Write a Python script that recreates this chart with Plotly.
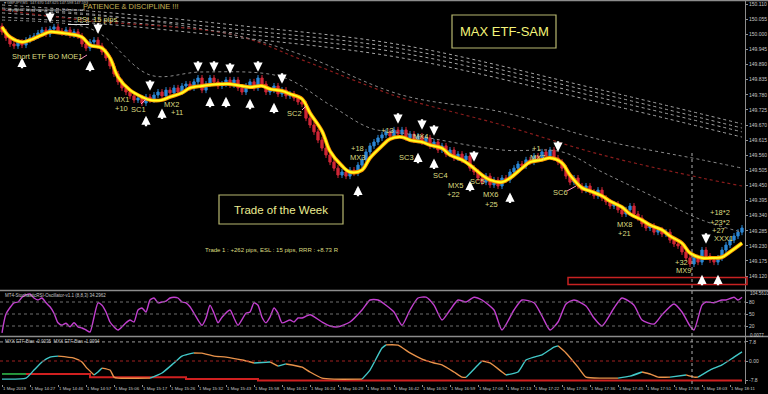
import plotly.graph_objects as go
from plotly.subplots import make_subplots

# ---------------- data ----------------
time_labels = ["1 May 2019", "1 May 14:27", "1 May 14:46", "1 May 14:57", "1 May 15:06",
               "1 May 15:17", "1 May 15:26", "1 May 15:32", "1 May 15:43", "1 May 15:58",
               "1 May 16:12", "1 May 16:24", "1 May 16:29", "1 May 16:35", "1 May 16:42",
               "1 May 16:52", "1 May 16:59", "1 May 17:06", "1 May 17:13", "1 May 17:22",
               "1 May 17:30", "1 May 17:36", "1 May 17:45", "1 May 17:51", "1 May 17:58",
               "1 May 18:03", "1 May 18:11"]
label_bars = list(range(0, 186, 7))

price_ticks = [150.110, 150.055, 150.000, 149.945, 149.890, 149.835, 149.780, 149.725,
               149.670, 149.615, 149.560, 149.505, 149.450, 149.395, 149.340, 149.285,
               149.230, 149.175, 149.120]

open0 = 150.030
close = [
    150.009, 149.987, 149.965, 149.958, 149.972, 149.961, 149.979, 149.987, 149.994, 150.005,
    150.016, 150.001, 150.019, 150.027, 150.012, 150.005, 150.016, 149.998, 150.009, 149.994,
    149.965, 149.950, 149.972, 149.979, 149.958, 149.936, 149.914, 149.885, 149.856, 149.827,
    149.805, 149.790, 149.776, 149.761, 149.768, 149.750, 149.772, 149.761, 149.779, 149.790,
    149.776, 149.797, 149.787, 149.805, 149.790, 149.812, 149.819, 149.805, 149.827, 149.841,
    149.797, 149.819, 149.841, 149.827, 149.812, 149.819, 149.834, 149.816, 149.834, 149.805,
    149.790, 149.812, 149.827, 149.805, 149.841, 149.819, 149.790, 149.797, 149.812, 149.783,
    149.797, 149.776, 149.783, 149.768, 149.754, 149.746, 149.695, 149.670, 149.645, 149.615,
    149.586, 149.561, 149.535, 149.513, 149.488, 149.499, 149.484, 149.506, 149.495, 149.524,
    149.543, 149.572, 149.594, 149.608, 149.623, 149.634, 149.645, 149.630, 149.652, 149.637,
    149.652, 149.623, 149.637, 149.615, 149.630, 149.608, 149.623, 149.594, 149.608, 149.579,
    149.594, 149.564, 149.579, 149.550, 149.564, 149.543, 149.557, 149.513, 149.499, 149.477,
    149.462, 149.484, 149.452, 149.470, 149.448, 149.477, 149.470, 149.499, 149.513, 149.528,
    149.521, 149.543, 149.535, 149.557, 149.550, 149.572, 149.557, 149.579, 149.550, 149.535,
    149.513, 149.484, 149.462, 149.477, 149.448, 149.433, 149.448, 149.426, 149.412, 149.433,
    149.404, 149.390, 149.375, 149.382, 149.361, 149.346, 149.361, 149.375, 149.346, 149.331,
    149.310, 149.295, 149.302, 149.280, 149.288, 149.273, 149.280, 149.251, 149.237, 149.230,
    149.208, 149.186, 149.164, 149.186, 149.171, 149.215, 149.193, 149.179, 149.171, 149.186,
    149.215, 149.233, 149.251, 149.266, 149.280, 149.295,
]
wick = 0.011

ma_idx = [0, 2, 5, 7, 10, 12, 15, 17, 20, 22, 25, 27, 29, 32, 35, 37, 40, 42, 45, 47,
          50, 52, 55, 57, 60, 62, 65, 67, 70, 72, 75, 77, 80, 82, 85, 87, 90, 92, 95, 97,
          100, 102, 105, 107, 110, 112, 115, 117, 120, 122, 125, 127, 130, 132, 135, 137,
          140, 142, 145, 147, 150, 152, 155, 157, 160, 162, 165, 167, 170, 172, 175, 177,
          180, 182, 185]
ma_val = [150.027, 149.990, 149.972, 149.979, 149.998, 150.009, 150.005, 150.001, 149.990, 149.961,
          149.950, 149.914, 149.845, 149.797, 149.772, 149.761, 149.761, 149.772, 149.787, 149.805,
          149.812, 149.816, 149.819, 149.819, 149.812, 149.808, 149.812, 149.801, 149.794, 149.783,
          149.765, 149.714, 149.648, 149.575, 149.521, 149.499, 149.506, 149.550, 149.594, 149.619,
          149.626, 149.615, 149.608, 149.597, 149.586, 149.561, 149.543, 149.524, 149.488, 149.470,
          149.462, 149.477, 149.513, 149.535, 149.543, 149.550, 149.532, 149.488, 149.441, 149.430,
          149.412, 149.393, 149.371, 149.346, 149.324, 149.306, 149.288, 149.266, 149.240, 149.204,
          149.186, 149.186, 149.189, 149.208, 149.240]

near_idx = [0, 20, 25, 37, 50, 70, 82, 92, 100, 125, 140, 150, 162, 175, 185]
near_val = [150.052, 150.030, 149.998, 149.852, 149.863, 149.845, 149.743, 149.659, 149.641,
            149.579, 149.572, 149.499, 149.415, 149.324, 149.280]
mid_idx = [0, 25, 58, 75, 100, 125, 150, 175, 185]
mid_val = [150.096, 150.070, 149.998, 149.925, 149.779, 149.717, 149.615, 149.543, 149.513]
red_ma_idx = [0, 20, 58, 75, 91, 100, 125, 150, 175, 185]
red_ma_val = [150.089, 150.052, 149.998, 149.907, 149.816, 149.768, 149.670, 149.561, 149.477, 149.448]
fan_idx = [0, 25, 58, 100, 150, 185]
fan1 = [150.107, 150.081, 150.034, 149.961, 149.797, 149.674]
fan2 = [150.092, 150.067, 150.019, 149.947, 149.783, 149.659]
fan3 = [150.078, 150.052, 150.005, 149.932, 149.768, 149.645]
fan4 = [150.063, 150.038, 149.990, 149.914, 149.750, 149.626]

down_arrow_bars = [12, 24, 37, 49, 53, 57, 64, 70, 99, 105, 108, 118, 139, 176]
up_arrow_bars = [5, 22, 36, 40, 52, 56, 62, 68, 89, 104, 108, 117, 127, 175, 179]

osc_idx = [0, 1, 3, 4, 5, 6, 7, 8, 9, 10, 11, 12, 13, 14, 15, 16, 17, 18, 19, 20, 21, 22, 23, 24,
           25, 26, 27, 28, 29, 30, 31, 32, 33, 34, 35, 36, 37, 38, 39, 40, 41, 42, 43, 44, 45, 46,
           47, 48, 50, 51, 52, 53, 54, 55, 57, 58, 59, 61, 62, 63, 64, 65, 66, 67, 68, 69, 70, 72,
           73, 74, 75, 77, 80, 82, 84, 87, 90, 92, 94, 96, 98, 100, 102, 104, 106, 108, 110, 112,
           114, 116, 118, 120, 123, 125, 128, 130, 133, 135, 137, 139, 141, 143, 146, 148, 150,
           153, 155, 158, 160, 163, 165, 168, 170, 172, 173, 175, 176, 178, 180, 181, 183, 184, 185]
osc_val = [3, 50, 78, 80, 92, 98, 100, 90, 85, 90, 78, 68, 52, 28, 22, 27, 18, 28, 18, 15, 10, 5, 42, 78,
           72, 55, 30, 18, 10, 18, 28, 35, 30, 60, 65, 55, 85, 90, 78, 80, 82, 90, 92, 90, 80, 78,
           68, 52, 22, 40, 72, 52, 28, 42, 60, 40, 22, 52, 55, 78, 72, 42, 28, 42, 65, 52, 28, 35,
           30, 40, 40, 48, 30, 20, 18, 30, 60, 85, 85, 72, 55, 22, 60, 90, 92, 72, 35, 60,
           85, 80, 92, 85, 60, 10, 60, 85, 78, 45, 10, 30, 75, 85, 70, 40, 20,
           65, 90, 72, 35, 25, 48, 75, 55, 20, 10, 72, 80, 78, 85, 85, 92, 85, 92]
osc_levels = [80, 50, 20]

bias_idx = [0, 6, 8, 10, 12, 14, 18, 20, 21, 23, 24, 25, 27, 28, 29, 37, 40, 43, 45, 48, 50, 53,
            56, 60, 63, 65, 67, 69, 71, 75, 77, 80, 83, 90, 92, 95, 96, 99, 102, 105, 108, 110,
            113, 115, 116, 119, 120, 122, 125, 126, 129, 131, 133, 135, 138, 139, 141, 144, 146,
            150, 154, 157, 160, 162, 164, 167, 171, 173, 174, 177, 180, 183, 185]
bias_val = [-7.4, -7.0, -3.7, -0.4, 1.6, 2.0, 1.2, -0.4, -2.5, -5.7, -4.5, -2.9, -3.7, -6.6, -7.0,
            -7.0, -4.9, -0.8, 2.0, 3.3, 3.2, 2.0, 1.6, 0.4, -0.8, -0.6, -0.4, -2.1, -1.2, -2.5, -4.5,
            -7.0, -7.4, -7.4, -3.7, 5.3, 6.6, 6.5, 3.3, 0.8, -0.8, -1.6, -4.5, -6.6, -6.7, -1.6, 0.0,
            -0.8, -4.5, -5.7, -4.5, 0.4, 1.6, 2.5, 5.7, 6.2, 3.3, -2.5, -6.6, -7.0, -7.0, -6.2, -4.5,
            -5.3, -6.6, -6.6, -5.7, -6.6, -6.6, -3.7, -1.6, 1.6, 3.7]
green_idx = [0, 6]
green_val = [-5.3, -5.3]
redstep_idx = [6, 22, 46, 64, 185]
redstep_val = [-5.3, -6.6, -7.4, -8.0, -8.0]
bias_levels = [7.8, 0.0]

# ---------------- styling / geometry ----------------
W, H = 768, 394
ML, MR, MT, MB = 0, 23, 2, 10
PW, PH = W - ML - MR, H - MT - MB


def fx(px):
    return (px - ML) / PW


def fy(py):
    return (H - MB - py) / PH


BLUE = "#2f8fe0"
RED = "#dc2a3a"
LBL = "#dcdc80"
TXT = "#c8c8c8"
FONT = "Liberation Sans"

n = len(close)
bars = list(range(n))
opens = [open0] + close[:-1]
highs = [max(o, c) + wick for o, c in zip(opens, close)]
lows = [min(o, c) - wick for o, c in zip(opens, close)]

fig = make_subplots(rows=3, cols=1, shared_xaxes=True, vertical_spacing=0.0)

for xs, ys, col, w in [(fan_idx, fan1, "#a8a8a8", 1), (fan_idx, fan2, "#a8a8a8", 1),
                       (fan_idx, fan3, "#a8a8a8", 1), (fan_idx, fan4, "#a8a8a8", 1),
                       (red_ma_idx, red_ma_val, "#8a1c1c", 1.2),
                       (mid_idx, mid_val, "#8a8a8a", 1), (near_idx, near_val, "#8a8a8a", 1)]:
    fig.add_trace(go.Scatter(x=xs, y=ys, mode="lines", line=dict(color=col, width=w, dash="dot",
                  shape="spline"), hoverinfo="skip", showlegend=False), row=1, col=1)

fig.add_trace(go.Scatter(x=ma_idx, y=ma_val, mode="lines",
                         line=dict(color="#ff9a00", width=3.8, shape="spline"),
                         hoverinfo="skip", showlegend=False), row=1, col=1)
fig.add_trace(go.Scatter(x=ma_idx, y=ma_val, mode="lines",
                         line=dict(color="#ffff20", width=1.9, shape="spline"),
                         hoverinfo="skip", showlegend=False), row=1, col=1)

fig.add_trace(go.Candlestick(x=bars, open=opens, high=highs, low=lows, close=close,
                             increasing=dict(line=dict(color=BLUE, width=1), fillcolor=BLUE),
                             decreasing=dict(line=dict(color=RED, width=1), fillcolor=RED),
                             whiskerwidth=0, opacity=0.95, showlegend=False, hoverinfo="skip"),
              row=1, col=1)

fig.add_trace(go.Scatter(x=osc_idx, y=osc_val, mode="lines",
                         line=dict(color="#c23fcf", width=1.4, shape="spline", smoothing=0.6),
                         hoverinfo="skip", showlegend=False), row=2, col=1)

fig.add_trace(go.Scatter(x=green_idx, y=green_val, mode="lines", line=dict(color="#2fb84a", width=1.6),
                         hoverinfo="skip", showlegend=False), row=3, col=1)
fig.add_trace(go.Scatter(x=redstep_idx, y=redstep_val, mode="lines",
                         line=dict(color="#d02020", width=2, shape="hv"),
                         hoverinfo="skip", showlegend=False), row=3, col=1)

TEAL, ORNG = "#42c8c8", "#e8924a"
runs = []
prev_col = TEAL
for k in range(len(bias_idx) - 1):
    d = bias_val[k + 1] - bias_val[k]
    col = TEAL if d > 0 else (ORNG if d < 0 else prev_col)
    if runs and runs[-1][0] == col:
        runs[-1][1].append(k + 1)
    else:
        runs.append([col, [k, k + 1]])
    prev_col = col
for col, ks in runs:
    fig.add_trace(go.Scatter(x=[bias_idx[k] for k in ks], y=[bias_val[k] for k in ks], mode="lines",
                             line=dict(color=col, width=1.4, shape="spline", smoothing=0.5),
                             hoverinfo="skip", showlegend=False), row=3, col=1)

# ---------------- axes ----------------
xr = [-0.5, 185.75]
for i in (1, 2, 3):
    fig.update_xaxes(range=xr, showgrid=False, zeroline=False, showline=False,
                     rangeslider=dict(visible=False), showticklabels=False, row=i, col=1)
fig.update_xaxes(ticks="", row=1, col=1)
fig.update_xaxes(ticks="", row=2, col=1)
fig.update_xaxes(tickmode="array", tickvals=label_bars, ticks="outside", ticklen=2,
                 tickcolor="#909090", automargin=False, row=3, col=1)

ax_common = dict(side="right", showgrid=False, zeroline=False, showline=False, ticks="outside",
                 ticklen=2, tickcolor="#909090", automargin=False,
                 tickfont=dict(family=FONT, size=5, color=TXT))
fig.update_layout(
    yaxis=dict(domain=[fy(289), fy(2)], range=[150.125 - 0.00364 * 289, 150.125 - 0.00364 * 2],
               tickmode="array", tickvals=price_ticks, ticktext=["%.3f" % v for v in price_ticks],
               **ax_common),
    yaxis2=dict(domain=[fy(334), fy(292)], range=[0, 105], tickmode="array",
                tickvals=osc_levels, ticktext=[str(v) for v in osc_levels], **ax_common),
    yaxis3=dict(domain=[fy(384), fy(338)], range=[-9.4, 9.4], tickmode="array",
                tickvals=[7.8, 0.0, -7.8], ticktext=["7.8", "0.00", "-7.8"], **ax_common),
    boxgap=0.2,
)

# ---------------- shapes ----------------
shapes = []
for py in (0.5, 290.5, 336.5):
    shapes.append(dict(type="line", xref="paper", yref="paper", x0=fx(0), x1=fx(768),
                       y0=fy(py), y1=fy(py), line=dict(color="#8c8c8c", width=1.5)))
shapes.append(dict(type="line", xref="paper", yref="paper", x0=fx(745.5), x1=fx(745.5),
                   y0=fy(0), y1=fy(384), line=dict(color="#8c8c8c", width=1)))
for lv in osc_levels:
    shapes.append(dict(type="line", xref="paper", yref="y2", x0=0, x1=1, y0=lv, y1=lv,
                       line=dict(color="#6e6e6e", width=1, dash="dot")))
shapes.append(dict(type="line", xref="paper", yref="y3", x0=0, x1=1, y0=bias_levels[0], y1=bias_levels[0],
                   line=dict(color="#9a9a9a", width=1, dash="dot")))
shapes.append(dict(type="line", xref="paper", yref="y3", x0=0, x1=1, y0=bias_levels[1], y1=bias_levels[1],
                   line=dict(color="#a02020", width=1, dash="dot")))
shapes.append(dict(type="line", xref="x", yref="paper", x0=172.5, x1=172.5, y0=fy(384), y1=fy(150),
                   line=dict(color="#b0b0b0", width=1, dash="dot")))
shapes.append(dict(type="rect", xref="paper", yref="paper", x0=fx(452), x1=fx(556), y0=fy(48), y1=fy(15),
                   line=dict(color="#b8b870", width=1.2)))
shapes.append(dict(type="rect", xref="paper", yref="paper", x0=fx(219), x1=fx(343), y0=fy(224), y1=fy(195),
                   line=dict(color="#b8b870", width=1.2)))
shapes.append(dict(type="rect", xref="paper", yref="paper", x0=fx(568), x1=fx(747), y0=fy(284.5),
                   y1=fy(277.5), line=dict(color="#c82222", width=1.5)))
shapes.append(dict(type="line", xref="paper", yref="paper", x0=fx(68), x1=fx(89), y0=fy(24.5), y1=fy(24.5),
                   line=dict(color="#e0e0e0", width=1)))
for x0, y0, x1, y1 in [(79, 60, 87, 55), (141, 104, 146, 99), (302, 110, 306, 106), (567, 191, 576, 186)]:
    shapes.append(dict(type="line", xref="paper", yref="paper", x0=fx(x0), x1=fx(x1), y0=fy(y0), y1=fy(y1),
                       line=dict(color="#ff8fc0", width=1)))

# ---------------- annotations ----------------
ann = []
for b in down_arrow_bars:
    ann.append(dict(x=b, y=highs[b] + 0.012, xref="x", yref="y", text="", showarrow=True, ax=0, ay=-12,
                    arrowhead=2, arrowsize=0.8, arrowwidth=2.3, arrowcolor="#ffffff"))
for b in up_arrow_bars:
    ann.append(dict(x=b, y=lows[b] - 0.035, xref="x", yref="y", text="", showarrow=True, ax=0, ay=12,
                    arrowhead=2, arrowsize=0.8, arrowwidth=2.3, arrowcolor="#ffffff"))

for b, t in zip(label_bars, time_labels):
    ann.append(dict(x=b - 0.2, y=fy(388.5), xref="x", yref="paper", text=t, showarrow=False,
                    xanchor="left", yanchor="middle", font=dict(family=FONT, size=4.4, color=TXT)))

labels = [
    ("Short ETF BO MOE1", 47, 57), ("ESL 15 pips", 97, 20),
    ("MX1", 121, 99), ("+10", 121, 108), ("SC1", 138, 110),
    ("MX2", 171, 104), ("+11", 177, 112), ("SC2", 294, 114),
    ("+18", 357, 148), ("MX3", 357, 157),
    ("+13", 388, 130), ("MX4", 420, 137), ("SC3", 406, 157),
    ("SC4", 440, 175), ("MX5", 455, 186), ("+22", 453, 195),
    ("SC5", 477, 181), ("MX6", 490, 195), ("+25", 491, 204),
    ("+1", 536, 148), ("MX7", 537, 157), ("SC6", 560, 192),
    ("MX8", 624, 224), ("+21", 624, 233),
    ("+18*2", 720, 213), ("+23*2", 720, 222), ("+27", 718, 230), ("XXX1", 723, 238),
    ("+32", 681, 262), ("MX9", 683, 270),
]
for t, x, y in labels:
    ann.append(dict(text=t, x=fx(x), y=fy(y), xref="paper", yref="paper", showarrow=False,
                    xanchor="center", yanchor="middle", font=dict(family=FONT, size=7.5, color=LBL)))


def txt(t, x, y, size, color, anchor="left"):
    ann.append(dict(text=t, x=fx(x), y=fy(y), xref="paper", yref="paper", showarrow=False,
                    xanchor=anchor, yanchor="middle", font=dict(family=FONT, size=size, color=color)))


txt("PATIENCE &amp; DISCIPLINE !!!", 131, 6, 7.5, "#c8b458", "center")
txt("\u25be GBPJPY,M1  147.670 147.625 147.598 147.593", 2, 3, 3.8, "#b8b8b8")
txt("Copyright \u00a9 http://www.strategies-indicator.com", 3, 10, 3.8, "#d0d0d0")
txt("MAX ETF-SAM", 504, 31, 13, "#f4f47a", "center")
txt("Trade of the Week", 281, 210, 11.5, "#ecec90", "center")
txt("Trade 1 : +262 pips, ESL : 15 pips, RRR : +8.73 R", 203, 250, 6, "#dede80")
txt("MT4-StochasticRSI-Oscillator-v1.1 (8,8,3) 34.2962", 3, 295, 4.5, "#c8c8c8")
txt("MXX ETF Bias -0.0035  MXX ETF Bias -1.0994", 3, 341, 4.5, "#c8c8c8")
txt("104.5610", 748, 293, 4.5, TXT)
txt("0.0077", 748, 335, 4.5, TXT)

fig.update_layout(
    width=W, height=H, margin=dict(l=ML, r=MR, t=MT, b=MB),
    paper_bgcolor="#000000", plot_bgcolor="#000000",
    showlegend=False, shapes=shapes, annotations=ann,
    font=dict(family=FONT, color=TXT),
)

fig.write_html("out.html", config={"displayModeBar": False},
               post_script="document.body.style.margin='0px';document.body.style.padding='0px';"
                           "document.body.style.background='#000';")
